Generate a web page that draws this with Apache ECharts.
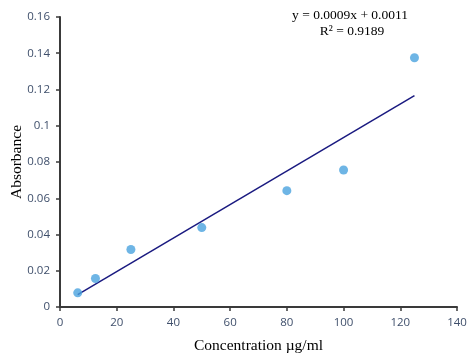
<!DOCTYPE html>
<html>
<head>
<meta charset="utf-8">
<script src="https://cdn.jsdelivr.net/npm/echarts@6/dist/echarts.min.js"></script>
<style>html,body{margin:0;padding:0;background:#fff;}#c{width:474px;height:361px;}</style>
</head>
<body>
<div id="c"></div>
<script>
const concentrations = [6.25, 12.5, 25, 50, 80, 100, 125];
const absorbance = [0.0078, 0.0157, 0.0317, 0.0438, 0.0642, 0.0756, 0.1375];
const equationText = 'y = 0.0009x + 0.0011';
const r2Text = 'R² = 0.9189';
const xTitle = 'Concentration µg/ml';
const yTitle = 'Absorbance';

// least-squares trendline through the data
const n = concentrations.length;
const mx = concentrations.reduce((a, b) => a + b, 0) / n;
const my = absorbance.reduce((a, b) => a + b, 0) / n;
let sxy = 0, sxx = 0;
for (let i = 0; i < n; i++) { sxy += (concentrations[i] - mx) * (absorbance[i] - my); sxx += (concentrations[i] - mx) ** 2; }
const slope = sxy / sxx, intercept = my - slope * mx;
const xMin = Math.min(...concentrations), xMax = Math.max(...concentrations);
const trend = [[xMin, slope * xMin + intercept], [xMax, slope * xMax + intercept]];

const chart = echarts.init(document.getElementById('c'));
const labelColor = '#3f4f6b';
chart.setOption({
  animation: false,
  grid: { left: 60, right: 17, top: 17, bottom: 54, containLabel: false, outerBoundsMode: 'none' },
  title: [
    { text: equationText, left: 345, top: 3, textAlign: 'center', textStyle: { fontFamily: 'Liberation Serif', fontSize: 13.5, fontWeight: 'normal', color: '#000' } },
    { text: r2Text, left: 347, top: 19, textAlign: 'center', textStyle: { fontFamily: 'Liberation Serif', fontSize: 13.5, fontWeight: 'normal', color: '#000' } }
  ],
  xAxis: {
    type: 'value', min: 0, max: 140, interval: 20,
    name: xTitle, nameLocation: 'middle', nameGap: 31, nameMoveOverlap: false,
    nameTextStyle: { fontFamily: 'Liberation Serif', fontSize: 15.5, color: '#000' },
    axisLine: { show: true, lineStyle: { color: '#3a3a3a', width: 2 } },
    axisTick: { show: true, length: 4, lineStyle: { color: '#3a3a3a', width: 1.5 } },
    axisLabel: { fontFamily: 'Open Sans', fontSize: 11.5, color: labelColor, margin: 10 },
    splitLine: { show: false }
  },
  yAxis: {
    type: 'value', min: 0, max: 0.16, interval: 0.02,
    name: yTitle, nameLocation: 'middle', nameGap: 35, nameRotate: 90, nameMoveOverlap: false,
    nameTextStyle: { fontFamily: 'Liberation Serif', fontSize: 15.5, color: '#000' },
    axisLine: { show: true, lineStyle: { color: '#3a3a3a', width: 2 } },
    axisTick: { show: true, length: 4, lineStyle: { color: '#3a3a3a', width: 1.5 } },
    axisLabel: { fontFamily: 'Open Sans', fontSize: 11.5, color: labelColor, margin: 10 },
    splitLine: { show: false }
  },
  series: [
    { type: 'line', data: trend, symbol: 'none', lineStyle: { color: '#1a1a80', width: 1.5 }, z: 2 },
    { type: 'scatter', data: concentrations.map((x, i) => [x, absorbance[i]]), symbolSize: 9, itemStyle: { color: '#4aa3df' }, z: 3 }
  ]
});
</script>
</body>
</html>
